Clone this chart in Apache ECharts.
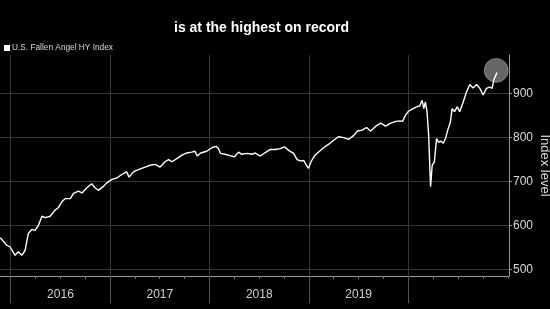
<!DOCTYPE html>
<html>
<head>
<meta charset="utf-8">
<script src="https://cdn.jsdelivr.net/npm/echarts@6/dist/echarts.min.js"></script>
<style>
html,body{margin:0;padding:0;background:#000;}
#c{width:550px;height:309px;}
</style>
</head>
<body>
<div id="c"></div>
<script>
const dates = [
'2015-11-24','2015-12-18','2015-12-30','2016-01-17','2016-01-29','2016-02-11','2016-02-23','2016-03-06','2016-03-19','2016-03-31',
'2016-04-12','2016-04-25','2016-05-07','2016-05-25','2016-06-12','2016-06-25','2016-07-07','2016-07-19','2016-08-07','2016-08-19',
'2016-09-06','2016-09-19','2016-10-07','2016-10-25','2016-11-06','2016-11-18','2016-12-07','2016-12-19','2017-01-07','2017-01-25',
'2017-02-12','2017-03-02','2017-03-11','2017-03-27','2017-04-14','2017-04-21','2017-05-09','2017-05-27','2017-06-15','2017-07-03',
'2017-07-21','2017-08-03','2017-08-15','2017-09-02','2017-09-21','2017-10-09','2017-10-27','2017-11-08','2017-11-16','2017-11-29',
'2017-12-21','2018-01-09','2018-01-25','2018-02-02','2018-02-10','2018-02-26','2018-03-17','2018-04-01','2018-04-17','2018-04-29',
'2018-05-18','2018-06-05','2018-06-17','2018-07-06','2018-07-24','2018-08-12','2018-08-30','2018-09-17','2018-10-02','2018-10-18',
'2018-11-05','2018-11-18','2018-11-30','2018-12-12','2018-12-22','2018-12-30','2019-01-08','2019-01-20','2019-02-05','2019-02-23',
'2019-03-14','2019-04-01','2019-04-19','2019-05-08','2019-05-26','2019-06-01','2019-06-14','2019-06-28','2019-07-15','2019-07-31',
'2019-08-15','2019-09-03','2019-09-21','2019-10-09','2019-10-28','2019-11-15','2019-12-01','2019-12-10','2019-12-21','2020-01-01',
'2020-01-18','2020-01-30','2020-02-11','2020-02-20','2020-02-26','2020-03-03','2020-03-09','2020-03-15','2020-03-22','2020-03-28',
'2020-04-05','2020-04-13','2020-04-21','2020-04-30','2020-05-07','2020-05-16','2020-05-24','2020-06-03','2020-06-09','2020-06-18',
'2020-06-28','2020-07-07','2020-07-20','2020-08-01','2020-08-13','2020-08-25','2020-09-07','2020-09-19','2020-10-01','2020-10-13',
'2020-10-25','2020-11-03','2020-11-09','2020-11-16','2020-11-21'
];
const values = [
572,555,551,532,540,532,543,582,591,589,
600,621,618,621,635,641,654,661,661,673,
678,674,686,695,686,680,689,697,705,708,
716,722,710,722,727,730,733,737,739,733,
745,750,745,752,760,765,767,769,758,765,
769,777,780,775,764,762,759,756,767,762,
764,762,765,758,766,773,773,775,779,771,
764,750,747,748,737,730,745,758,767,777,
785,794,802,800,796,792,805,815,817,823,
815,826,833,826,833,837,838,837,851,860,
866,870,872,885,866,881,859,805,688,737,
745,798,789,792,787,798,817,836,866,859,
870,859,881,904,921,913,921,912,897,912,
915,912,931,941,948
];
const highlightDate = ['2020-11-18'];
const highlightValue = [953];
const yTicks = [500, 600, 700, 800, 900];
const yearBounds = ['2016-01-01','2017-01-01','2018-01-01','2019-01-01','2020-01-01'];
const yearLabelDates = ['2016-07-02','2017-07-02','2018-07-02','2019-07-02'];
const quarterDates = ['2016-04-01','2016-07-01','2016-10-01','2017-04-01','2017-07-01','2017-10-01','2018-04-01','2018-07-01','2018-10-01','2019-04-01','2019-07-01','2019-10-01','2020-04-01','2020-07-01','2020-10-01','2021-01-01'];
const seriesName = 'U.S. Fallen Angel HY Index';
const titleText = 'is at the highest on record';
const yName = 'Index level';

const xMin = '2015-11-23';
const xMax = '2021-01-04';
const t = s => new Date(s + 'T00:00:00Z').getTime();

const chart = echarts.init(document.getElementById('c'), null, {renderer: 'canvas'});
const font = '"Liberation Sans", Arial, sans-serif';
chart.setOption({
  backgroundColor: '#000',
  animation: false,
  title: {
    text: titleText, left: 174, top: 21, padding: 0,
    textStyle: {color: '#fff', fontSize: 14, fontWeight: 'bold', fontFamily: font}
  },
  legend: {
    show: true, left: 4, top: 44, padding: 0, itemWidth: 6, itemHeight: 6, itemGap: 4,
    icon: 'rect',
    textStyle: {color: '#d8d8d8', fontSize: 8.3, fontFamily: font, padding: [0,0,0,-3]},
    data: [{name: seriesName, itemStyle: {color: '#fff'}}]
  },
  grid: {left: 0, right: 41, top: 55, bottom: 33, containLabel: false, outerBoundsMode: 'none'},
  xAxis: [{
    type: 'value', min: t(xMin), max: t(xMax),
    axisLine: {show: true, onZero: false, lineStyle: {color: '#9a9a9a', width: 1}},
    axisTick: {show: true, customValues: yearBounds.map(t), length: 27, lineStyle: {color: '#555'}},
    axisLabel: {customValues: yearLabelDates.map(t), color: '#d0d0d0', fontSize: 12, fontFamily: font, margin: 13,
      formatter: v => String(new Date(v).getUTCFullYear())},
    splitLine: {show: true, lineStyle: {color: '#363636', width: 1}}
  }, {
    type: 'value', min: t(xMin), max: t(xMax), position: 'bottom', gridIndex: 0,
    axisLine: {show: false, onZero: false},
    axisTick: {show: true, customValues: quarterDates.map(t), length: 3, lineStyle: {color: '#777'}},
    axisLabel: {show: false},
    splitLine: {show: false}
  }],
  yAxis: {
    type: 'value', position: 'right', min: 485, max: 988,
    name: yName, nameLocation: 'middle', nameRotate: -90, nameGap: 29, nameMoveOverlap: false,
    nameTextStyle: {color: '#d8d8d8', fontSize: 13, fontFamily: font},
    axisLine: {show: true, lineStyle: {color: '#9a9a9a'}},
    axisTick: {show: true, customValues: yTicks, length: 3, lineStyle: {color: '#9a9a9a'}},
    axisLabel: {customValues: yTicks, color: '#d8d8d8', fontSize: 12, fontFamily: font, margin: 4},
    splitLine: {show: true, lineStyle: {color: '#363636'}}
  },
  series: [{
    name: 'highlight', type: 'scatter', z: 1, silent: true,
    symbol: 'circle', symbolSize: 24,
    itemStyle: {color: 'rgba(150,150,150,0.85)', borderColor: 'rgba(190,190,190,0.6)', borderWidth: 1},
    data: highlightDate.map((d, i) => [t(d), highlightValue[i]])
  }, {
    name: seriesName, type: 'line', z: 3, showSymbol: false, symbol: 'none',
    lineStyle: {color: '#fff', width: 1.4},
    itemStyle: {color: '#fff'},
    data: dates.map((d, i) => [t(d), values[i]])
  }]
});
</script>
</body>
</html>
